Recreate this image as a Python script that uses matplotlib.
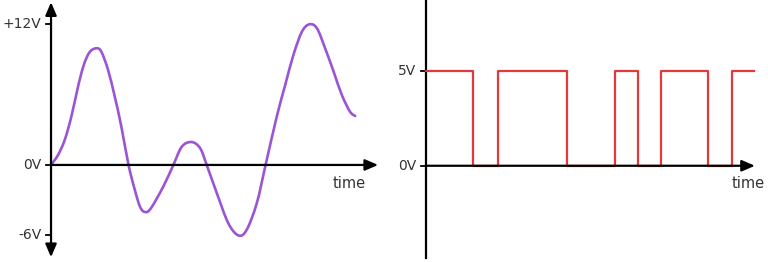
import numpy as np
import matplotlib
matplotlib.use("Agg")
from matplotlib import pyplot as plt
from matplotlib.path import Path
from matplotlib.patches import PathPatch

# analog signal (time in arbitrary units, volts)
analog_t = [0, 0.214, 0.419, 0.621, 0.826, 1.0, 1.18, 1.385, 1.538, 1.743, 1.948, 2.15,
            2.37, 2.55, 2.72, 2.87, 3.05, 3.43, 3.74, 4.0, 4.30, 4.56, 4.76,
            5.07, 5.42, 5.73, 5.98, 6.29, 6.56, 6.90, 7.16, 7.41, 7.67, 7.90,
            8.13, 8.38, 8.64, 8.89, 9.14, 9.30]
analog_v = [0, 0.85, 2.13, 4.11, 6.67, 8.5, 9.6, 9.93, 9.64, 8.09, 5.82, 3.26,
            0, -2.0, -3.55, -4.0, -3.7, -1.85, 0, 1.56, 1.95, 1.42, 0,
            -2.41, -4.96, -6.0, -5.53, -3.26, 0, 4.1, 6.81, 9.36, 11.34, 11.97,
            11.63, 9.93, 7.94, 5.96, 4.54, 4.17]
analog_ticks = [12, 0, -6]
analog_labels = ["+12V", "0V", "-6V"]

# digital signal: switching times and levels
digital_t = [0, 1.43, 2.18, 4.29, 5.77, 6.47, 7.19, 8.61, 9.36, 10.02]
digital_v = [5, 0, 5, 0, 5, 0, 5, 0, 5, 5]
digital_ticks = [5, 0]
digital_labels = ["5V", "0V"]

purple = "#9b55d4"
red = "#e03a3a"
txt = "#333333"

fig = plt.figure(figsize=(7.68, 2.62), dpi=100)
ax1 = fig.add_axes([0, 0, 0.5, 1])
ax2 = fig.add_axes([0.5, 0, 0.5, 1])


def arrow(ax, x0, y0, x1, y1, style):
    ax.annotate("", xy=(x1, y1), xytext=(x0, y0),
                arrowprops=dict(arrowstyle=style, color="black", lw=1.6,
                                mutation_scale=12, shrinkA=0, shrinkB=0))


def smooth_path(xs, ys):
    #Catmull-Rom through the points, drawn as cubic bezier segments
    p = np.column_stack([xs, ys]).astype(float)
    p = np.vstack([p[0], p, p[-1]])
    verts = [p[1]]
    codes = [Path.MOVETO]
    for i in range(1, len(p) - 2):
        c1 = p[i] + (p[i + 1] - p[i - 1]) / 6
        c2 = p[i + 1] - (p[i + 2] - p[i]) / 6
        verts += [c1, c2, p[i + 1]]
        codes += [Path.CURVE4] * 3
    return Path(verts, codes)


#Left panel - analog
ax1.set_xlim(-1.56, 10.18)
ax1.set_ylim(-8.26, 14.04)
ax1.axis("off")
ax1.add_patch(PathPatch(smooth_path(analog_t, analog_v), fill=False, edgecolor=purple,
                        lw=1.9, capstyle="round", zorder=3))
arrow(ax1, 0, -7.85, 0, 13.85, "<|-|>,head_length=0.65,head_width=0.28")
arrow(ax1, 0, 0, 10.0, 0, "-|>,head_length=0.65,head_width=0.28")
for v, lab in zip(analog_ticks, analog_labels):
    ax1.plot([-0.16, 0], [v, v], color="black", lw=1.3)
    ax1.text(-0.3, v, lab, ha="right", va="center", fontsize=10, color=txt)
ax1.text(9.13, -1.55, "time", ha="center", va="center", fontsize=10.5, color=txt)

#Right panel - digital
ax2.set_xlim(-1.294, 10.45)
ax2.set_ylim(-5.08, 8.75)
ax2.axis("off")
ax2.step(digital_t, digital_v, where="post", color=red, lw=1.6, zorder=3)
ax2.plot([0, 0], [-4.87, 8.75], color="black", lw=1.6)
arrow(ax2, 0, 0, 10.05, 0, "-|>,head_length=0.65,head_width=0.28")
for v, lab in zip(digital_ticks, digital_labels):
    ax2.plot([-0.16, 0], [v, v], color="black", lw=1.3)
    ax2.text(-0.3, v, lab, ha="right", va="center", fontsize=10, color=txt)
ax2.text(9.84, -0.92, "time", ha="center", va="center", fontsize=10.5, color=txt)

fig.savefig("out.png", dpi=100)
